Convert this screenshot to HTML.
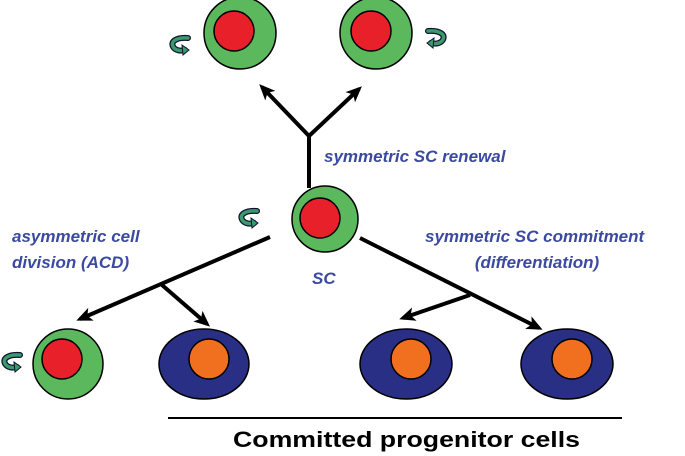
<!DOCTYPE html>
<html><head><style>html,body{margin:0;padding:0;background:#fff;}svg{display:block}</style></head>
<body>
<svg width="685" height="456" viewBox="0 0 685 456" xmlns="http://www.w3.org/2000/svg">
<defs>
<marker id="ah" markerWidth="16" markerHeight="14" refX="12" refY="7" orient="auto" markerUnits="userSpaceOnUse" viewBox="0 0 16 14">
<path d="M0,0 L16,7 L0,14 L4,7 Z" fill="#000"/>
</marker>
<g id="loopL">
<path d="M10,-7 C-2,-8 -9,-3 -4,3 C-1,6 3,6 7,5" fill="none" stroke="#113" stroke-width="6" stroke-linecap="round"/>
<path d="M10,-7 C-2,-8 -9,-3 -4,3 C-1,6 3,6 7,5" fill="none" stroke="#3a9a6a" stroke-width="3.5" stroke-linecap="round"/>
<path d="M4,0 L11,5 L5,10 Z" fill="#3a9a6a" stroke="#113" stroke-width="1"/>
</g>
</defs>
<g stroke="#000" stroke-width="1.5">
<circle cx="240" cy="33" r="36" fill="#5cb85c"/><circle cx="234" cy="31" r="20" fill="#e8202a"/>
<circle cx="376" cy="33" r="36" fill="#5cb85c"/><circle cx="371" cy="31" r="20" fill="#e8202a"/>
<circle cx="325" cy="219" r="33" fill="#5cb85c"/><circle cx="320" cy="218" r="20" fill="#e8202a"/>
<circle cx="68" cy="364" r="35" fill="#5cb85c"/><circle cx="62" cy="359" r="20" fill="#e8202a"/>
<ellipse cx="204" cy="364" rx="45" ry="35" fill="#2a2f86"/><circle cx="209" cy="359" r="20" fill="#f07020"/>
<ellipse cx="406" cy="364" rx="46" ry="35" fill="#2a2f86"/><circle cx="411" cy="359" r="20" fill="#f07020"/>
<ellipse cx="567" cy="364" rx="46" ry="35" fill="#2a2f86"/><circle cx="572" cy="359" r="20" fill="#f07020"/>
</g>
<g stroke="#000" stroke-width="4" fill="none">
<line x1="309" y1="188" x2="309" y2="136"/>
<line x1="309" y1="136" x2="262" y2="87" marker-end="url(#ah)"/>
<line x1="309" y1="136" x2="359" y2="89" marker-end="url(#ah)"/>
<line x1="270" y1="237" x2="80" y2="319" marker-end="url(#ah)"/>
<line x1="162" y1="285" x2="207" y2="324" marker-end="url(#ah)"/>
<line x1="360" y1="238" x2="539" y2="328" marker-end="url(#ah)"/>
<line x1="470" y1="295" x2="403" y2="318" marker-end="url(#ah)"/>
</g>
<line x1="168" y1="418" x2="622" y2="418" stroke="#000" stroke-width="2"/>
<use href="#loopL" transform="translate(178,45)"/>
<use href="#loopL" transform="translate(438,38) scale(-1,1)"/>
<use href="#loopL" transform="translate(247,218)"/>
<use href="#loopL" transform="translate(10,362)"/>
<g font-family="Liberation Sans, sans-serif" font-weight="bold" font-style="italic" fill="#3b4aa0" font-size="17">
<text x="324" y="162">symmetric SC renewal</text>
<text x="12" y="242">asymmetric cell</text>
<text x="12" y="268">division (ACD)</text>
<text x="312" y="284">SC</text>
<text x="425" y="242">symmetric SC commitment</text>
<text x="537" y="268" text-anchor="middle">(differentiation)</text>
</g>
<text x="233" y="447" font-family="Liberation Sans, sans-serif" font-weight="bold" font-size="22" fill="#000" textLength="347" lengthAdjust="spacingAndGlyphs">Committed progenitor cells</text>
</svg>
</body></html>
